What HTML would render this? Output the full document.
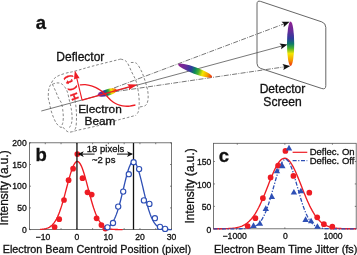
<!DOCTYPE html>
<html><head><meta charset="utf-8"><title>Figure</title>
<style>
html,body{margin:0;padding:0;background:#fff;width:357px;height:255px;overflow:hidden}
svg{display:block}
text{font-family:"Liberation Sans",Arial,Helvetica,sans-serif;fill:#111;stroke:#111;stroke-width:0.3px}
</style></head><body>
<svg width="357" height="255" viewBox="0 0 357 255">
<g id="panel-a">
<text x="35.8" y="28.6" font-size="18.5" font-weight="bold">a</text>
<text x="56.3" y="61.3" font-size="12">Deflector</text>
<path d="M120.70,59.10 C116.08,60.25 100.72,63.97 93.00,66.00 C85.28,68.03 78.75,70.15 74.40,71.30 C70.05,72.45 69.42,72.22 66.90,72.90 C64.38,73.58 61.40,74.47 59.30,75.40 C57.20,76.33 55.77,76.93 54.30,78.50 C52.83,80.07 51.43,82.92 50.50,84.80 C49.57,86.68 49.07,87.60 48.70,89.80 C48.33,92.00 48.17,95.80 48.30,98.00 C48.43,100.20 49.08,101.08 49.50,103.00 C49.92,104.92 50.17,107.17 50.80,109.50 C51.43,111.83 52.37,114.70 53.30,117.00 C54.23,119.30 55.25,121.62 56.40,123.30 C57.55,124.98 59.10,126.45 60.20,127.10 C61.30,127.75 62.53,127.18 63.00,127.20" stroke="#777" stroke-width="0.9" fill="none" stroke-dasharray="2.6,1.9"/>
<path d="M52.40,84.20 C53.13,83.98 55.33,83.00 56.80,82.90 C58.27,82.80 59.83,82.87 61.20,83.60 C62.57,84.33 63.95,85.85 65.00,87.30 C66.05,88.75 66.75,90.02 67.50,92.30 C68.25,94.58 68.88,98.30 69.50,101.00 C70.12,103.70 70.77,105.83 71.20,108.50 C71.63,111.17 72.05,114.53 72.10,117.00 C72.15,119.47 71.93,121.55 71.50,123.30 C71.07,125.05 69.83,126.80 69.50,127.50" stroke="#777" stroke-width="0.9" fill="none" stroke-dasharray="2.6,1.9"/>
<path d="M52.40,84.20 C52.93,85.35 54.58,88.80 55.60,91.10 C56.62,93.40 57.53,96.02 58.50,98.00 C59.47,99.98 60.70,101.08 61.40,103.00 C62.10,104.92 62.38,107.17 62.70,109.50 C63.02,111.83 63.30,114.70 63.30,117.00 C63.30,119.30 63.12,121.62 62.70,123.30 C62.28,124.98 61.12,126.47 60.80,127.10" stroke="#777" stroke-width="0.9" fill="none" stroke-dasharray="2.6,1.9"/>
<path d="M73.50,96.00 C73.72,96.57 74.37,97.40 74.80,99.40 C75.23,101.40 75.82,105.07 76.10,108.00 C76.38,110.93 76.53,113.82 76.50,117.00 C76.47,120.18 76.42,124.68 75.90,127.10 C75.38,129.52 73.82,130.77 73.40,131.50" stroke="#777" stroke-width="0.9" fill="none" stroke-dasharray="2.6,1.9"/>
<path d="M63.00,127.20 C63.50,127.75 65.00,129.68 66.00,130.50 C67.00,131.32 67.77,131.93 69.00,132.10 C70.23,132.27 71.93,131.82 73.40,131.50 C74.87,131.18 73.37,131.25 77.80,130.20 C82.23,129.15 93.30,126.90 100.00,125.20 C106.70,123.50 113.43,121.27 118.00,120.00 C122.57,118.73 124.40,118.38 127.40,117.60 C130.40,116.82 134.57,115.68 136.00,115.30" stroke="#777" stroke-width="0.9" fill="none" stroke-dasharray="2.6,1.9"/>
<path d="M120.70,59.10 C121.33,59.30 123.37,59.65 124.50,60.30 C125.63,60.95 126.30,61.05 127.50,63.00 C128.70,64.95 130.35,69.20 131.70,72.00 C133.05,74.80 134.63,77.30 135.60,79.80 C136.57,82.30 136.97,84.35 137.50,87.00 C138.03,89.65 138.52,92.95 138.80,95.70 C139.08,98.45 139.27,100.88 139.20,103.50 C139.13,106.12 138.93,109.43 138.40,111.40 C137.87,113.37 136.40,114.65 136.00,115.30" stroke="#777" stroke-width="0.9" fill="none" stroke-dasharray="2.6,1.9"/>
<path d="M130.90,62.50 C131.82,62.63 134.70,61.98 136.40,63.30 C138.10,64.62 139.80,67.92 141.10,70.40 C142.40,72.88 143.28,75.58 144.20,78.20 C145.12,80.82 145.98,83.80 146.60,86.10 C147.22,88.40 147.65,89.88 147.90,92.00 C148.15,94.12 148.25,96.88 148.10,98.80 C147.95,100.72 147.57,102.32 147.00,103.50 C146.43,104.68 145.87,105.33 144.70,105.90 C143.53,106.47 140.78,106.73 140.00,106.90" stroke="#777" stroke-width="0.9" fill="none" stroke-dasharray="2.6,1.9"/>
<line x1="41.3" y1="111" x2="283" y2="45.7" stroke="#555" stroke-width="0.8"/>
<line x1="106" y1="91" x2="285" y2="23.5" stroke="#555" stroke-width="0.8" fill="none" stroke-dasharray="5,1.3,0.9,1.3"/>
<line x1="106" y1="93" x2="285.5" y2="66.7" stroke="#555" stroke-width="0.8" fill="none" stroke-dasharray="5,1.3,0.9,1.3"/>
<path d="M289.60,21.80 L283.64,27.25 L283.99,23.92 L281.52,21.64 Z" fill="#111"/>
<path d="M287.50,44.50 L281.04,49.35 L281.71,46.06 L279.48,43.56 Z" fill="#111"/>
<path d="M290.30,66.00 L283.31,70.06 L284.36,66.87 L282.44,64.12 Z" fill="#111"/>
<path d="M257,4 Q257,0.2 260.6,1.4 L321.8,21.9 Q325.8,23.2 325.8,27.4 L325.8,85.6 Q325.8,89.8 321.8,88.5 L260.6,68.4 Q257,67.2 257,63.4 Z" fill="none" stroke="#555" stroke-width="0.9"/>
<defs>
<linearGradient id="rbv" x1="0" y1="0" x2="0" y2="1">
<stop offset="0" stop-color="#8e1f8f"/><stop offset="0.2" stop-color="#6a2a9a"/><stop offset="0.38" stop-color="#2e3d9c"/>
<stop offset="0.5" stop-color="#0c7a6a"/><stop offset="0.6" stop-color="#4ab030"/><stop offset="0.72" stop-color="#f3e600"/>
<stop offset="0.86" stop-color="#f6a000"/><stop offset="1" stop-color="#ec2a10"/></linearGradient>
<linearGradient id="rbh" x1="0" y1="0" x2="1" y2="0">
<stop offset="0" stop-color="#8e1f8f"/><stop offset="0.2" stop-color="#6a2a9a"/><stop offset="0.38" stop-color="#2e3d9c"/>
<stop offset="0.5" stop-color="#0c8a5a"/><stop offset="0.6" stop-color="#4ab030"/><stop offset="0.72" stop-color="#f3e600"/>
<stop offset="0.86" stop-color="#f6a000"/><stop offset="1" stop-color="#ec2a10"/></linearGradient>
</defs>
<ellipse cx="290.6" cy="43.8" rx="3.6" ry="22.3" fill="url(#rbv)"/>
<ellipse cx="195.10" cy="70.60" rx="18.04" ry="3.3" fill="url(#rbh)" transform="rotate(20.44 195.10 70.60)"/>
<ellipse cx="107.1" cy="92.6" rx="10" ry="3.35" fill="url(#rbh)" transform="rotate(-16 107.1 92.6)"/>
<path d="M82.1,100.1 L76.6,77.5" stroke="#ee1c24" stroke-width="1.1" fill="none"/>
<path d="M74.80,70.60 L79.66,78.15 L76.72,78.37 L74.03,79.55 Z" fill="#ee1c24"/>
<path d="M82.1,100.1 L130,86.6" stroke="#ee1c24" stroke-width="1.1" fill="none"/>
<path d="M137.60,84.40 L128.79,90.01 L129.42,86.71 L127.16,84.24 Z" fill="#ee1c24"/>
<path d="M79.80,84.90 C80.70,84.87 83.27,84.55 85.20,84.70 C87.13,84.85 89.62,85.32 91.40,85.80 C93.18,86.28 94.40,86.85 95.90,87.60 C97.40,88.35 98.90,89.25 100.40,90.30 C101.90,91.35 103.60,92.68 104.90,93.90 C106.20,95.12 107.22,96.55 108.20,97.60 C109.18,98.65 109.58,99.22 110.80,100.20 C112.02,101.18 113.92,102.63 115.50,103.50 C117.08,104.37 118.72,104.95 120.30,105.40 C121.88,105.85 123.42,106.08 125.00,106.20 C126.58,106.32 128.07,106.30 129.80,106.10 C131.53,105.90 134.47,105.18 135.40,105.00" stroke="#ee1c24" stroke-width="1.35" fill="none"/>
<text transform="translate(79.1,98.85) rotate(-110)" font-size="10.2" style="fill:#ee1c24;stroke:#ee1c24" font-weight="bold">H<tspan dx="2.8">(</tspan><tspan dx="4.2">t</tspan><tspan dx="1.6">)</tspan></text>
<text x="100" y="113.4" font-size="11.3" text-anchor="middle" textLength="43.6" lengthAdjust="spacingAndGlyphs">Electron</text>
<text x="100" y="125.1" font-size="11.3" text-anchor="middle" textLength="31.0" lengthAdjust="spacingAndGlyphs">Beam</text>
<text x="282.5" y="92.8" font-size="12.1" text-anchor="middle">Detector</text>
<text x="282.5" y="105.9" font-size="12.1" text-anchor="middle">Screen</text>
</g>
<g id="panel-b">
<rect x="29.5" y="142.8" width="142.0" height="86.79999999999998" fill="none" stroke="#555" stroke-width="0.8"/>
<path d="M29.50,229.6 v-1.4 M29.50,142.8 v1.4 M45.28,229.6 v-1.4 M45.28,142.8 v1.4 M61.06,229.6 v-1.4 M61.06,142.8 v1.4 M76.83,229.6 v-1.4 M76.83,142.8 v1.4 M92.61,229.6 v-1.4 M92.61,142.8 v1.4 M108.39,229.6 v-1.4 M108.39,142.8 v1.4 M124.17,229.6 v-1.4 M124.17,142.8 v1.4 M139.94,229.6 v-1.4 M139.94,142.8 v1.4 M155.72,229.6 v-1.4 M155.72,142.8 v1.4 M171.50,229.6 v-1.4 M171.50,142.8 v1.4 M29.5,229.60 h1.4 M171.5,229.60 h-1.4 M29.5,207.90 h1.4 M171.5,207.90 h-1.4 M29.5,186.20 h1.4 M171.5,186.20 h-1.4 M29.5,164.50 h1.4 M171.5,164.50 h-1.4 M29.5,142.80 h1.4 M171.5,142.80 h-1.4" stroke="#555" stroke-width="0.8"/>
<text x="26.7" y="232.80" font-size="8.6" text-anchor="end">0</text>
<text x="26.7" y="211.10" font-size="8.6" text-anchor="end">50</text>
<text x="26.7" y="189.40" font-size="8.6" text-anchor="end">100</text>
<text x="26.7" y="167.70" font-size="8.6" text-anchor="end">150</text>
<text x="26.7" y="146.00" font-size="8.6" text-anchor="end">200</text>
<text x="42.90" y="240.3" font-size="8.6" text-anchor="middle">−10</text>
<text x="76.83" y="240.3" font-size="8.6" text-anchor="middle">0</text>
<text x="108.39" y="240.3" font-size="8.6" text-anchor="middle">10</text>
<text x="139.94" y="240.3" font-size="8.6" text-anchor="middle">20</text>
<text x="171.50" y="240.3" font-size="8.6" text-anchor="middle">30</text>
<text x="2.7" y="252.5" font-size="10.8">Electron Beam Centroid Position (pixel)</text>
<text transform="translate(8.2,225.6) rotate(-90)" font-size="11.9">Intensity (a.u.)</text>
<text x="35.6" y="161.2" font-size="18.5" font-weight="bold">b</text>
<path d="M39.91,229.43 L40.95,229.37 L41.98,229.28 L43.01,229.16 L44.05,229.01 L45.08,228.81 L46.11,228.55 L47.15,228.23 L48.18,227.81 L49.21,227.30 L50.25,226.66 L51.28,225.88 L52.31,224.93 L53.35,223.80 L54.38,222.46 L55.41,220.89 L56.45,219.07 L57.48,216.99 L58.52,214.64 L59.55,212.00 L60.58,209.09 L61.62,205.92 L62.65,202.51 L63.68,198.89 L64.72,195.10 L65.75,191.20 L66.78,187.25 L67.82,183.31 L68.85,179.48 L69.88,175.82 L70.92,172.42 L71.95,169.36 L72.98,166.72 L74.02,164.56 L75.05,162.93 L76.08,161.90 L77.12,161.47 L78.15,161.67 L79.18,162.49 L80.22,163.90 L81.25,165.86 L82.28,168.34 L83.32,171.25 L84.35,174.54 L85.38,178.11 L86.42,181.89 L87.45,185.80 L88.49,189.75 L89.52,193.68 L90.55,197.52 L91.59,201.20 L92.62,204.70 L93.65,207.96 L94.69,210.97 L95.72,213.70 L96.75,216.16 L97.79,218.34 L98.82,220.26 L99.85,221.92 L100.89,223.34 L101.92,224.54 L102.95,225.55 L103.99,226.39 L105.02,227.08 L106.05,227.64 L107.09,228.09 L108.12,228.44 L109.15,228.72 L110.19,228.94 L111.22,229.11 L112.25,229.24 L113.29,229.34 L114.32,229.41 L115.35,229.46 L116.39,229.50 L117.42,229.53 L118.46,229.55 L119.49,229.57 L120.52,229.58 L121.56,229.58 L122.59,229.59" stroke="#ee1c24" stroke-width="1.35" fill="none"/>
<circle cx="54.6" cy="227.1" r="2.85" fill="#ee1c24"/>
<circle cx="59.2" cy="219.2" r="2.85" fill="#ee1c24"/>
<circle cx="64" cy="200" r="2.85" fill="#ee1c24"/>
<circle cx="68.6" cy="180.2" r="2.85" fill="#ee1c24"/>
<circle cx="73.1" cy="168.7" r="2.85" fill="#ee1c24"/>
<circle cx="77.3" cy="154.1" r="2.85" fill="#ee1c24"/>
<circle cx="82.5" cy="178.2" r="2.85" fill="#ee1c24"/>
<circle cx="87.5" cy="192.3" r="2.85" fill="#ee1c24"/>
<circle cx="91.7" cy="194.6" r="2.85" fill="#ee1c24"/>
<circle cx="96.6" cy="218.3" r="2.85" fill="#ee1c24"/>
<circle cx="101.4" cy="225.1" r="2.85" fill="#ee1c24"/>
<circle cx="105.3" cy="228.6" r="2.85" fill="#ee1c24"/>
<path d="M103.66,228.91 L104.50,228.71 L105.35,228.46 L106.20,228.14 L107.05,227.75 L107.90,227.27 L108.74,226.70 L109.59,226.00 L110.44,225.18 L111.29,224.20 L112.14,223.06 L112.98,221.74 L113.83,220.23 L114.68,218.50 L115.53,216.56 L116.38,214.39 L117.22,211.99 L118.07,209.37 L118.92,206.53 L119.77,203.49 L120.62,200.27 L121.46,196.90 L122.31,193.41 L123.16,189.85 L124.01,186.27 L124.86,182.72 L125.71,179.26 L126.55,175.95 L127.40,172.85 L128.25,170.02 L129.10,167.52 L129.95,165.39 L130.79,163.69 L131.64,162.46 L132.49,161.71 L133.34,161.46 L134.19,161.73 L135.03,162.50 L135.88,163.76 L136.73,165.48 L137.58,167.63 L138.43,170.15 L139.27,172.99 L140.12,176.10 L140.97,179.42 L141.82,182.89 L142.67,186.44 L143.51,190.02 L144.36,193.58 L145.21,197.06 L146.06,200.42 L146.91,203.64 L147.75,206.67 L148.60,209.50 L149.45,212.11 L150.30,214.50 L151.15,216.66 L151.99,218.59 L152.84,220.30 L153.69,221.81 L154.54,223.12 L155.39,224.25 L156.24,225.22 L157.08,226.04 L157.93,226.72 L158.78,227.30 L159.63,227.77 L160.48,228.16 L161.32,228.47 L162.17,228.72 L163.02,228.92 L163.87,229.08 L164.72,229.21 L165.56,229.30 L166.41,229.38 L167.26,229.43 L168.11,229.48 L168.96,229.51 L169.80,229.54 L170.65,229.55 L171.50,229.57" stroke="#2e4fb5" stroke-width="1.3" fill="none"/>
<line x1="76.95" y1="143" x2="76.95" y2="229.5" stroke="#111" stroke-width="1.3"/>
<line x1="133.5" y1="143" x2="133.5" y2="229.5" stroke="#111" stroke-width="1.3"/>
<circle cx="107.5" cy="227.3" r="2.6" fill="#fff" stroke="#2e4fb5" stroke-width="1.15"/>
<circle cx="113" cy="223" r="2.6" fill="#fff" stroke="#2e4fb5" stroke-width="1.15"/>
<circle cx="118.2" cy="206.6" r="2.6" fill="#fff" stroke="#2e4fb5" stroke-width="1.15"/>
<circle cx="123.2" cy="191.6" r="2.6" fill="#fff" stroke="#2e4fb5" stroke-width="1.15"/>
<circle cx="128.8" cy="174.2" r="2.6" fill="#fff" stroke="#2e4fb5" stroke-width="1.15"/>
<circle cx="133.6" cy="162.2" r="2.6" fill="#fff" stroke="#2e4fb5" stroke-width="1.15"/>
<circle cx="139.1" cy="169.1" r="2.6" fill="#fff" stroke="#2e4fb5" stroke-width="1.15"/>
<circle cx="143.9" cy="200.4" r="2.6" fill="#fff" stroke="#2e4fb5" stroke-width="1.15"/>
<circle cx="149.4" cy="203.9" r="2.6" fill="#fff" stroke="#2e4fb5" stroke-width="1.15"/>
<circle cx="154.9" cy="218.2" r="2.6" fill="#fff" stroke="#2e4fb5" stroke-width="1.15"/>
<circle cx="160" cy="226.9" r="2.6" fill="#fff" stroke="#2e4fb5" stroke-width="1.15"/>
<circle cx="165.1" cy="228.9" r="2.6" fill="#fff" stroke="#2e4fb5" stroke-width="1.15"/>
<line x1="78.83" y1="154.1" x2="94.6" y2="154.1" stroke="#111" stroke-width="1"/>
<path d="M77.73,154.10 L83.73,151.20 L82.23,154.10 L83.73,157.00 Z" fill="#111"/>
<line x1="117" y1="154.1" x2="131.63" y2="154.1" stroke="#111" stroke-width="1"/>
<path d="M133.03,154.10 L127.03,157.00 L128.53,154.10 L127.03,151.20 Z" fill="#111"/>
<text x="86.8" y="151.5" font-size="9.5">18 pixels</text>
<text x="91.9" y="163.3" font-size="9.5">~2 ps</text>
</g>
<g id="panel-c">
<rect x="213.5" y="143.3" width="142.7" height="85.5" fill="none" stroke="#555" stroke-width="0.8"/>
<path d="M237.28,228.8 v-1.4 M237.28,143.3 v1.4 M284.85,228.8 v-1.4 M284.85,143.3 v1.4 M332.42,228.8 v-1.4 M332.42,143.3 v1.4 M213.5,228.80 h1.4 M356.2,228.80 h-1.4 M213.5,206.37 h1.4 M356.2,206.37 h-1.4 M213.5,183.94 h1.4 M356.2,183.94 h-1.4 M213.5,161.51 h1.4 M356.2,161.51 h-1.4" stroke="#555" stroke-width="0.8"/>
<text x="211.3" y="232.50" font-size="8.6" text-anchor="end">0</text>
<text x="211.3" y="210.07" font-size="8.6" text-anchor="end">50</text>
<text x="211.3" y="187.64" font-size="8.6" text-anchor="end">100</text>
<text x="211.3" y="165.21" font-size="8.6" text-anchor="end">150</text>
<text x="234.65" y="239.2" font-size="8.6" text-anchor="middle">−1000</text>
<text x="285.45" y="239.2" font-size="8.6" text-anchor="middle">0</text>
<text x="333.02" y="239.2" font-size="8.6" text-anchor="middle">1000</text>
<text x="214.0" y="252.5" font-size="10.9">Electron Beam Time Jitter (fs)</text>
<text transform="translate(193.8,223.6) rotate(-90)" font-size="11.9">Intensity (a.u.)</text>
<text x="218.8" y="162" font-size="18.5" font-weight="bold">c</text>
<path d="M213.50,228.79 L214.69,228.79 L215.88,228.78 L217.07,228.78 L218.26,228.77 L219.45,228.76 L220.63,228.75 L221.82,228.74 L223.01,228.72 L224.20,228.69 L225.39,228.66 L226.58,228.63 L227.77,228.58 L228.96,228.52 L230.15,228.44 L231.34,228.35 L232.53,228.24 L233.72,228.10 L234.91,227.94 L236.09,227.74 L237.28,227.50 L238.47,227.22 L239.66,226.88 L240.85,226.48 L242.04,226.02 L243.23,225.47 L244.42,224.84 L245.61,224.12 L246.80,223.29 L247.99,222.35 L249.18,221.29 L250.36,220.09 L251.55,218.75 L252.74,217.27 L253.93,215.63 L255.12,213.84 L256.31,211.89 L257.50,209.78 L258.69,207.52 L259.88,205.10 L261.07,202.55 L262.26,199.86 L263.44,197.07 L264.63,194.17 L265.82,191.20 L267.01,188.19 L268.20,185.15 L269.39,182.12 L270.58,179.13 L271.77,176.22 L272.96,173.42 L274.15,170.76 L275.34,168.28 L276.53,166.01 L277.71,163.98 L278.90,162.22 L280.09,160.76 L281.28,159.62 L282.47,158.81 L283.66,158.35 L284.85,158.24 L286.04,158.49 L287.23,159.09 L288.42,160.04 L289.61,161.31 L290.80,162.89 L291.99,164.76 L293.17,166.89 L294.36,169.24 L295.55,171.80 L296.74,174.52 L297.93,177.38 L299.12,180.32 L300.31,183.33 L301.50,186.37 L302.69,189.40 L303.88,192.40 L305.07,195.34 L306.25,198.20 L307.44,200.95 L308.63,203.59 L309.82,206.09 L311.01,208.44 L312.20,210.64 L313.39,212.69 L314.58,214.58 L315.77,216.31 L316.96,217.88 L318.15,219.30 L319.34,220.58 L320.52,221.73 L321.71,222.74 L322.90,223.64 L324.09,224.42 L325.28,225.11 L326.47,225.70 L327.66,226.21 L328.85,226.65 L330.04,227.02 L331.23,227.34 L332.42,227.60 L333.61,227.82 L334.80,228.01 L335.98,228.16 L337.17,228.29 L338.36,228.39 L339.55,228.48 L340.74,228.54 L341.93,228.60 L343.12,228.64 L344.31,228.68 L345.50,228.71 L346.69,228.73 L347.88,228.74 L349.06,228.76 L350.25,228.77 L351.44,228.78 L352.63,228.78 L353.82,228.79 L355.01,228.79 L356.20,228.79" stroke="#ee1c24" stroke-width="1.35" fill="none"/>
<path d="M213.50,228.80 L214.69,228.80 L215.88,228.80 L217.07,228.80 L218.26,228.80 L219.45,228.80 L220.63,228.80 L221.82,228.80 L223.01,228.80 L224.20,228.80 L225.39,228.80 L226.58,228.80 L227.77,228.80 L228.96,228.80 L230.15,228.80 L231.34,228.80 L232.53,228.80 L233.72,228.80 L234.91,228.79 L236.09,228.79 L237.28,228.78 L238.47,228.78 L239.66,228.76 L240.85,228.75 L242.04,228.72 L243.23,228.69 L244.42,228.64 L245.61,228.57 L246.80,228.48 L247.99,228.36 L249.18,228.20 L250.36,227.98 L251.55,227.70 L252.74,227.33 L253.93,226.87 L255.12,226.28 L256.31,225.56 L257.50,224.66 L258.69,223.56 L259.88,222.25 L261.07,220.68 L262.26,218.85 L263.44,216.72 L264.63,214.29 L265.82,211.54 L267.01,208.48 L268.20,205.12 L269.39,201.48 L270.58,197.61 L271.77,193.54 L272.96,189.34 L274.15,185.10 L275.34,180.88 L276.53,176.79 L277.71,172.93 L278.90,169.38 L280.09,166.24 L281.28,163.61 L282.47,161.55 L283.66,160.12 L284.85,159.38 L286.04,159.34 L287.23,160.00 L288.42,161.34 L289.61,163.33 L290.80,165.90 L291.99,168.98 L293.17,172.48 L294.36,176.32 L295.55,180.38 L296.74,184.59 L297.93,188.84 L299.12,193.04 L300.31,197.13 L301.50,201.03 L302.69,204.70 L303.88,208.09 L305.07,211.19 L306.25,213.97 L307.44,216.44 L308.63,218.61 L309.82,220.48 L311.01,222.07 L312.20,223.42 L313.39,224.54 L314.58,225.46 L315.77,226.21 L316.96,226.81 L318.15,227.28 L319.34,227.66 L320.52,227.95 L321.71,228.17 L322.90,228.34 L324.09,228.47 L325.28,228.56 L326.47,228.63 L327.66,228.68 L328.85,228.72 L330.04,228.74 L331.23,228.76 L332.42,228.77 L333.61,228.78 L334.80,228.79 L335.98,228.79 L337.17,228.80 L338.36,228.80 L339.55,228.80 L340.74,228.80 L341.93,228.80 L343.12,228.80 L344.31,228.80 L345.50,228.80 L346.69,228.80 L347.88,228.80 L349.06,228.80 L350.25,228.80 L351.44,228.80 L352.63,228.80 L353.82,228.80 L355.01,228.80 L356.20,228.80" stroke="#2e4fb5" stroke-width="1.3" fill="none" stroke-dasharray="4,1.6,1.2,1.6"/>
<circle cx="247.6" cy="226" r="2.85" fill="#ee1c24"/>
<circle cx="255.4" cy="218.2" r="2.85" fill="#ee1c24"/>
<circle cx="262.9" cy="198.2" r="2.85" fill="#ee1c24"/>
<circle cx="270.6" cy="177.4" r="2.85" fill="#ee1c24"/>
<circle cx="278.1" cy="165.6" r="2.85" fill="#ee1c24"/>
<circle cx="285.4" cy="150.9" r="2.85" fill="#ee1c24"/>
<circle cx="293.4" cy="175.9" r="2.85" fill="#ee1c24"/>
<circle cx="309.3" cy="192.7" r="2.85" fill="#ee1c24"/>
<circle cx="317.2" cy="217.3" r="2.85" fill="#ee1c24"/>
<circle cx="323.9" cy="224.2" r="2.85" fill="#ee1c24"/>
<circle cx="332.3" cy="226.7" r="2.85" fill="#ee1c24"/>
<path d="M253.50,222.30 L256.70,227.90 L250.30,227.90 Z" fill="#2e4fb5"/>
<path d="M259.90,220.10 L263.10,225.70 L256.70,225.70 Z" fill="#2e4fb5"/>
<path d="M265.80,205.30 L269.00,210.90 L262.60,210.90 Z" fill="#2e4fb5"/>
<path d="M271.90,193.50 L275.10,199.10 L268.70,199.10 Z" fill="#2e4fb5"/>
<path d="M277.00,167.70 L280.20,173.30 L273.80,173.30 Z" fill="#2e4fb5"/>
<path d="M282.30,162.60 L285.50,168.20 L279.10,168.20 Z" fill="#2e4fb5"/>
<path d="M289.00,144.80 L292.20,150.40 L285.80,150.40 Z" fill="#2e4fb5"/>
<path d="M293.90,188.90 L297.10,194.50 L290.70,194.50 Z" fill="#2e4fb5"/>
<path d="M300.90,187.70 L304.10,193.30 L297.70,193.30 Z" fill="#2e4fb5"/>
<path d="M305.60,216.30 L308.80,221.90 L302.40,221.90 Z" fill="#2e4fb5"/>
<path d="M311.10,217.70 L314.30,223.30 L307.90,223.30 Z" fill="#2e4fb5"/>
<path d="M317.40,223.20 L320.60,228.80 L314.20,228.80 Z" fill="#2e4fb5"/>
<line x1="292.6" y1="152.3" x2="307.3" y2="152.3" stroke="#ee1c24" stroke-width="1.2"/>
<line x1="292.6" y1="160.6" x2="307.3" y2="160.6" stroke="#2e4fb5" stroke-width="1.2" stroke-dasharray="4,1.6,1.2,1.6"/>
<text x="309.7" y="155.4" font-size="9.5">Deflec. On</text>
<text x="309.7" y="163.7" font-size="9.5">Deflec. Off</text>
</g>
</svg>
</body></html>
